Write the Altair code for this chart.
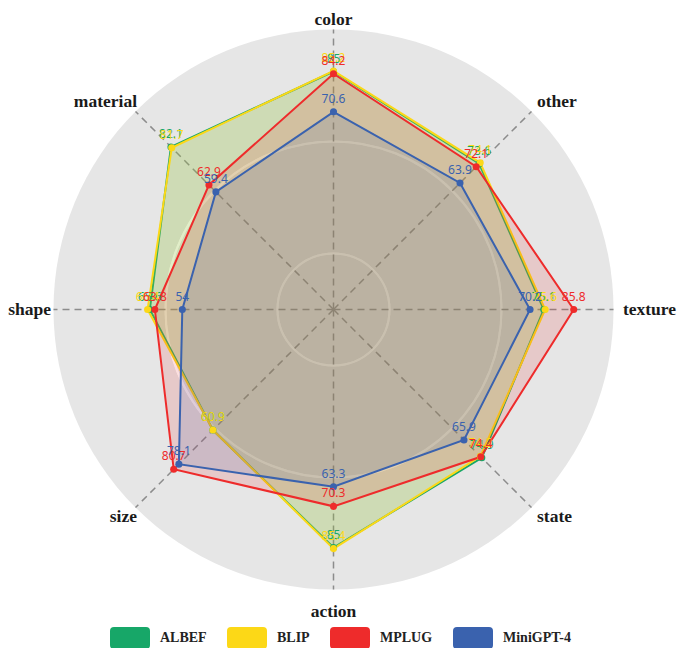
import math
import altair as alt
import pandas as pd

# ---------------- data ----------------
categories = ["color", "other", "texture", "state", "action", "size", "shape", "material"]
series_names = ["ALBEF", "BLIP", "MPLUG", "MiniGPT-4"]
albef = [85.0, 73.6, 75.1, 74.9, 85.0, 60.9, 65.6, 82.1]
blip = [85.2, 74.1, 75.6, 74.2, 85.4, 60.9, 66.4, 81.7]
mplug = [84.2, 72.1, 85.8, 74.4, 70.3, 80.7, 63.8, 62.9]
minigpt4 = [70.6, 63.9, 70.2, 65.9, 63.3, 78.1, 54.0, 59.4]
series_colors = ["#17a768", "#fcd817", "#ee2b2b", "#3a62ae"]
ring_levels = [20, 40, 60, 80]
max_value = 100

N = len(categories)
rows = []
for name, vals in zip(series_names, [albef, blip, mplug, minigpt4]):
    for i, (c, v) in enumerate(zip(categories, vals)):
        rows.append({"series": name, "category": c, "idx": i, "value": v})
df = pd.DataFrame(rows)
axes_df = pd.DataFrame({"category": categories, "idx": list(range(N)), "rmax": [max_value] * N})
rings_df = pd.DataFrame({"r": ring_levels, "cx": [0] * len(ring_levels), "cy": [0] * len(ring_levels)})
disk_df = pd.DataFrame({"r": [max_value], "cx": [0], "cy": [0]})

# ---------------- layout ----------------
W, H = 669, 640
CX, CY = 325.5, 301.5   # centre of the radar inside the plot area (px)
PX = 2.80               # pixels per value unit
NAME_R = 104.8          # radius (value units) of the category names

xs = alt.Scale(domain=[-CX / PX, (W - CX) / PX], nice=False, zero=False)
ys = alt.Scale(domain=[-(H - CY) / PX, CY / PX], nice=False, zero=False)
rs = alt.Scale(type="linear", domain=[0, max_value], range=[0, max_value * PX])
# legend scale (explicit domain) and a data-driven scale for strokes/fills
sc_legend = alt.Scale(domain=series_names, range=series_colors)
sc_data = alt.Scale(range=series_colors)

ANG = f"datum.idx * 2 * PI / {N}"

# background disk and rings
disk = alt.Chart(disk_df).mark_arc(theta=0, theta2=2 * math.pi, color="#e6e6e6").encode(
    x=alt.X("cx:Q", scale=xs, axis=None),
    y=alt.Y("cy:Q", scale=ys, axis=None),
    radius=alt.Radius("r:Q", scale=rs),
)
rings = alt.Chart(rings_df).mark_arc(
    theta=0, theta2=2 * math.pi, filled=False, stroke="white", strokeWidth=2
).encode(
    x=alt.X("cx:Q", scale=xs, axis=None),
    y=alt.Y("cy:Q", scale=ys, axis=None),
    radius=alt.Radius("r:Q", scale=rs),
)

# dashed spokes
spokes = alt.Chart(axes_df).transform_calculate(ang=ANG).transform_calculate(
    x0="0", y0="0",
    x2="datum.rmax * sin(datum.ang)", y2="datum.rmax * cos(datum.ang)",
).mark_rule(strokeDash=[7, 5], color="#8c8c8c", strokeWidth=1.5).encode(
    x=alt.X("x0:Q", scale=xs, axis=None),
    y=alt.Y("y0:Q", scale=ys, axis=None),
    x2="x2:Q",
    y2="y2:Q",
)

base = alt.Chart(df).transform_calculate(ang=ANG).transform_calculate(
    px="datum.value * sin(datum.ang)", py="datum.value * cos(datum.ang)"
)

poly = base.mark_line(interpolate="linear-closed", strokeWidth=2, fillOpacity=0.15).encode(
    x=alt.X("px:Q", scale=xs, axis=None),
    y=alt.Y("py:Q", scale=ys, axis=None),
    stroke=alt.Stroke("series:N", scale=sc_data, legend=None),
    fill=alt.Fill("series:N", scale=sc_data, legend=None),
    order="idx:Q",
)

RR = ("M-0.8,-0.55L0.8,-0.55Q1,-0.55,1,-0.35L1,0.35Q1,0.55,0.8,0.55L-0.8,0.55"
      "Q-1,0.55,-1,0.35L-1,-0.35Q-1,-0.55,-0.8,-0.55Z")

pts = base.mark_circle(size=50, opacity=1).encode(
    x=alt.X("px:Q", scale=xs, axis=None),
    y=alt.Y("py:Q", scale=ys, axis=None),
    color=alt.Color(
        "series:N", scale=sc_legend,
        legend=alt.Legend(
            title=None, orient="none", legendX=102, legendY=610, direction="horizontal",
            symbolType=RR, symbolSize=1600, symbolStrokeWidth=0, symbolOpacity=1,
            labelFont="Liberation Serif", labelFontSize=14, labelFontWeight="bold",
            labelColor="#222222", labelOffset=10, columnPadding=20, padding=0,
        ),
    ),
)

labels = base.mark_text(dy=-9, fontSize=12, font="Noto Sans", baseline="alphabetic").encode(
    x=alt.X("px:Q", scale=xs, axis=None),
    y=alt.Y("py:Q", scale=ys, axis=None),
    text="value:N",
    fill=alt.Fill("series:N", scale=sc_data, legend=None),
)

names_base = alt.Chart(axes_df).transform_calculate(ang=ANG).transform_calculate(
    lx=f"{NAME_R} * sin(datum.ang)", ly=f"{NAME_R} * cos(datum.ang)"
)
name_style = dict(font="Liberation Serif", fontSize=17.5, fontWeight="bold", color="#1a1a1a")
name_enc = dict(
    x=alt.X("lx:Q", scale=xs, axis=None),
    y=alt.Y("ly:Q", scale=ys, axis=None),
    text="category:N",
)
name_top = names_base.transform_filter("datum.idx == 0").mark_text(
    align="center", baseline="alphabetic", dy=9, **name_style).encode(**name_enc)
name_bottom = names_base.transform_filter(f"datum.idx == {N // 2}").mark_text(
    align="center", baseline="top", **name_style).encode(**name_enc)
name_right = names_base.transform_filter(f"datum.idx > 0 && datum.idx < {N // 2}").mark_text(
    align="left", baseline="middle", dx=-4, **name_style).encode(**name_enc)
name_left = names_base.transform_filter(f"datum.idx > {N // 2}").mark_text(
    align="right", baseline="middle", dx=11, **name_style).encode(**name_enc)

chart = alt.layer(
    disk, rings, spokes, poly, pts, labels, name_top, name_bottom, name_right, name_left
).properties(
    width=W, height=H, autosize=alt.AutoSizeParams(type="none"), padding=0
).configure_view(stroke=None)

chart.save("out.html", embed_options={"renderer": "svg", "actions": False})
